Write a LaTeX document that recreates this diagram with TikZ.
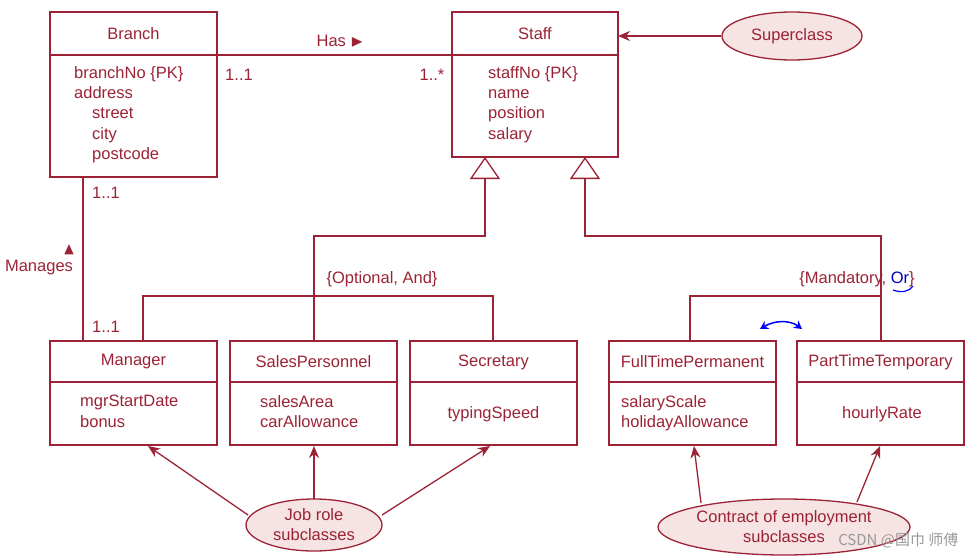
\documentclass[tikz,border=0pt]{standalone}
\usepackage{amssymb}
\usepackage{fontspec}
\setmainfont{Liberation Sans}
\newfontfamily\cjk{Noto Sans CJK SC}
\usetikzlibrary{arrows.meta,shapes.geometric}
\definecolor{mr}{HTML}{9B2335}
\definecolor{pk}{HTML}{F6E3E3}
\begin{document}
\begin{tikzpicture}[x=1pt,y=-1pt,
  ln/.style={draw=mr,line width=1.3pt},
  tx/.style={text=mr,font=\fontsize{16.5}{20.3}\selectfont,inner sep=0pt},
  el/.style={ellipse,draw=mr,fill=pk,line width=1.3pt,text=mr,font=\fontsize{16.5}{20}\selectfont,align=center,inner sep=0pt},
  ar/.style={ln,-{Stealth[length=12pt,width=10pt]}},
  tri/.style={ln,-{Triangle[open,length=22pt,width=30pt,fill=white]}}]
\useasboundingbox (0,0) rectangle (974,559);
% boxes
\foreach \n/\xa/\ya/\xb/\yb/\yh in {br/50/12/217/177/55, st/452/12/618/157/55, mg/50/341/217/445/382, sp/230/341/397/445/382, se/410/341/577/445/382, ft/609/341/776/445/382, pt/797/341/964/445/382}{
  \draw[ln] (\xa,\ya) rectangle (\xb,\yb);
  \draw[ln] (\xa,\yh) -- (\xb,\yh);
}
\node[tx] (brt) at (133.5,34) {Branch};
\node[tx] (stt) at (535,34) {Staff};
\node[tx] (mgt) at (133.5,362) {Manager};
\node[tx] (spt) at (313.5,362) {SalesPersonnel};
\node[tx] (set) at (493.5,362) {Secretary};
\node[tx] (ftt) at (692.5,362) {FullTimePermanent};
\node[tx] (ptt) at (880.5,362) {PartTimeTemporary};
\node[tx,anchor=north west,align=left] (bra) at (74,66) {branchNo \{PK\}\\address\\\hspace*{18pt}street\\\hspace*{18pt}city\\\hspace*{18pt}postcode};
\node[tx,anchor=north west,align=left] (sta) at (488,66) {staffNo \{PK\}\\name\\position\\salary};
\node[tx,anchor=north west,align=left] (mga) at (80,395) {mgrStartDate\\bonus};
\node[tx,anchor=north west,align=left] (spa) at (260,395) {salesArea\\carAllowance};
\node[tx] (sea) at (493.5,414) {typingSpeed};
\node[tx,anchor=north west,align=left] (fta) at (621,395) {salaryScale\\holidayAllowance};
\node[tx] (pta) at (882,414) {hourlyRate};
% association lines
\coordinate (b1) at (217,55); \coordinate (s1) at (452,55);
\draw[ln] (b1) -- (s1);
\node[tx] (has) at (340,41) {Has \raisebox{0.5pt}{$\blacktriangleright$}};
\node[tx] (m1) at (239,75) {1..1};
\node[tx] (m2) at (432,75) {1..*};
\coordinate (b2) at (83,177); \coordinate (g2) at (83,341);
\draw[ln] (b2) -- (g2);
\node[tx] (m3) at (106,193) {1..1};
\node[tx] (m4) at (106,327) {1..1};
\node[tx] (mgs) at (39,268) {Manages};
\node[tx] (mtri) at (69,250) {$\blacktriangle$};
% generalisation 1
\draw[ln] (143,341) -- (143,296) -- (493,296) -- (493,341);
\draw[ln] (314,341) -- (314,236) -- (485,236) -- (485,180);
\draw[tri] (485,200) -- (485,157);
\node[tx] (opt) at (382,279) {\{Optional, And\}};
% generalisation 2
\draw[ln] (690,341) -- (690,296) -- (881,296) -- (881,341);
\draw[ln] (881,296) -- (881,236) -- (585,236) -- (585,180);
\draw[tri] (585,200) -- (585,157);
\node[tx] (man) at (857,279) {\{Mandatory, \textcolor{blue!70!black}{Or}\}};
\draw[blue,line width=1.2pt] (893,290) .. controls (901,293) and (909,292) .. (913,286);
\draw[blue,line width=1.5pt,{Stealth[length=8pt,width=9pt]}-{Stealth[length=8pt,width=9pt]}] (760,329) .. controls (775,320) and (790,320) .. (802,329);
% ellipses
\node[el,minimum width=140pt,minimum height=48pt] (sup) at (792,36) {Superclass};
\node[el,minimum width=136pt,minimum height=52pt] (job) at (314,525) {Job role\\subclasses};
\node[el,minimum width=252pt,minimum height=56pt] (con) at (784,527) {Contract of employment\\subclasses};
\coordinate (stR) at (618,36);
\draw[ar] (sup) -- (stR);
\draw[ar] (248,515) -- (148,446);
\draw[ar] (314,499) -- (314,446);
\draw[ar] (382,515) -- (490,446);
\draw[ar] (701,503) -- (694,446);
\draw[ar] (857,502) -- (880,446);
\node[text=gray!80,font=\cjk\fontsize{15}{17}\selectfont,anchor=east] (wm) at (962,540) {CSDN @国巾 师傅};
\end{tikzpicture}
\end{document}
